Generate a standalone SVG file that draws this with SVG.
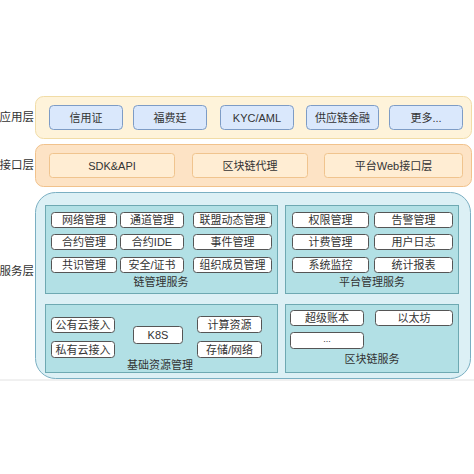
<svg xmlns="http://www.w3.org/2000/svg" width="474" height="474" viewBox="0 0 474 474">
<style>
text{font-family:"Liberation Sans","Noto Sans CJK SC",sans-serif;text-anchor:middle;dominant-baseline:central;fill:#333}
.lbl{font-size:11.5px;text-anchor:end}
.t{font-size:11px}
.cap{font-size:11px}
.app{fill:#dae8fc;stroke:#7d9cc6;stroke-width:1}
.ifc{fill:#ffedd3;stroke:#f0c48e;stroke-width:1}
.panel{fill:#b2e0e5;stroke:#6ea9b2;stroke-width:1}
.box{fill:#fff;stroke:#555;stroke-width:1}
</style>
<rect width="474" height="474" fill="#fff"/>
<line x1="0" y1="380" x2="474" y2="380" stroke="#e2e2e2" stroke-width="1"/>
<g id="layer-app">
<rect x="35.5" y="96.5" width="436" height="42" rx="8" fill="#fef3da" stroke="#f1dca6"/>
<text class="lbl" x="34" y="117">应用层</text>
<g id="n-xyz"><rect class="app" x="49.5" y="105.5" width="73" height="24" rx="4"/><text class="t" x="86" y="117.5">信用证</text></g>
<g id="n-fft"><rect class="app" x="133.5" y="105.5" width="73" height="24" rx="4"/><text class="t" x="170" y="117.5">福费廷</text></g>
<g id="n-kyc"><rect class="app" x="220.5" y="105.5" width="73" height="24" rx="4"/><text class="t" x="257" y="117.5">KYC/AML</text></g>
<g id="n-gyl"><rect class="app" x="306.5" y="105.5" width="72" height="24" rx="4"/><text class="t" x="342.5" y="117.5">供应链金融</text></g>
<g id="n-more"><rect class="app" x="389.5" y="105.5" width="73" height="24" rx="4"/><text class="t" x="426" y="117.5">更多...</text></g>
</g>
<g id="layer-ifc">
<rect x="35.5" y="144.5" width="436" height="42" rx="8" fill="#fde3c5" stroke="#f1c28c"/>
<text class="lbl" x="34" y="165">接口层</text>
<g id="n-sdk"><rect class="ifc" x="49.5" y="153.5" width="125" height="24" rx="3"/><text class="t" x="112" y="165.5">SDK&amp;API</text></g>
<g id="n-proxy"><rect class="ifc" x="192.5" y="153.5" width="115" height="24" rx="3"/><text class="t" x="250" y="165.5">区块链代理</text></g>
<g id="n-web"><rect class="ifc" x="324.5" y="153.5" width="138" height="24" rx="3"/><text class="t" x="393.5" y="165.5">平台Web接口层</text></g>
</g>
<g id="layer-svc">
<rect x="35.5" y="192.5" width="435" height="186" rx="20" fill="#dcf0f5" stroke="#7aafc2"/>
<text class="lbl" x="34" y="271">服务层</text>
<g id="p-chain">
<rect class="panel" x="45.5" y="205.5" width="232" height="88"/>
<text class="cap" x="161" y="282">链管理服务</text>
<g id="n-c1"><rect class="box" x="51.5" y="212.5" width="65" height="15" rx="3"/><text class="t" x="84" y="220">网络管理</text></g>
<g id="n-c2"><rect class="box" x="120.5" y="212.5" width="63" height="15" rx="3"/><text class="t" x="152" y="220">通道管理</text></g>
<g id="n-c3"><rect class="box" x="193.5" y="212.5" width="78" height="15" rx="3"/><text class="t" x="232.5" y="220">联盟动态管理</text></g>
<g id="n-c4"><rect class="box" x="51.5" y="234.5" width="65" height="15" rx="3"/><text class="t" x="84" y="242">合约管理</text></g>
<g id="n-c5"><rect class="box" x="120.5" y="234.5" width="63" height="15" rx="3"/><text class="t" x="152" y="242">合约IDE</text></g>
<g id="n-c6"><rect class="box" x="193.5" y="234.5" width="78" height="15" rx="3"/><text class="t" x="232.5" y="242">事件管理</text></g>
<g id="n-c7"><rect class="box" x="51.5" y="257.5" width="65" height="15" rx="3"/><text class="t" x="84" y="265">共识管理</text></g>
<g id="n-c8"><rect class="box" x="120.5" y="257.5" width="63" height="15" rx="3"/><text class="t" x="152" y="265">安全/证书</text></g>
<g id="n-c9"><rect class="box" x="193.5" y="257.5" width="78" height="15" rx="3"/><text class="t" x="232.5" y="265">组织成员管理</text></g>
</g>
<g id="p-plat">
<rect class="panel" x="285.5" y="205.5" width="173" height="88"/>
<text class="cap" x="372" y="282">平台管理服务</text>
<g id="n-p1"><rect class="box" x="292.5" y="212.5" width="76" height="15" rx="3"/><text class="t" x="330.5" y="220">权限管理</text></g>
<g id="n-p2"><rect class="box" x="374.5" y="212.5" width="78" height="15" rx="3"/><text class="t" x="413.5" y="220">告警管理</text></g>
<g id="n-p3"><rect class="box" x="292.5" y="234.5" width="76" height="15" rx="3"/><text class="t" x="330.5" y="242">计费管理</text></g>
<g id="n-p4"><rect class="box" x="374.5" y="234.5" width="78" height="15" rx="3"/><text class="t" x="413.5" y="242">用户日志</text></g>
<g id="n-p5"><rect class="box" x="292.5" y="257.5" width="76" height="15" rx="3"/><text class="t" x="330.5" y="265">系统监控</text></g>
<g id="n-p6"><rect class="box" x="374.5" y="257.5" width="78" height="15" rx="3"/><text class="t" x="413.5" y="265">统计报表</text></g>
</g>
<g id="p-res">
<rect class="panel" x="45.5" y="304.5" width="232" height="68"/>
<text class="cap" x="160" y="365">基础资源管理</text>
<g id="n-r1"><rect class="box" x="51.5" y="317.5" width="63" height="15" rx="3"/><text class="t" x="83" y="325">公有云接入</text></g>
<g id="n-r2"><rect class="box" x="51.5" y="341.5" width="63" height="16" rx="3"/><text class="t" x="83" y="349.5">私有云接入</text></g>
<g id="n-r3"><rect class="box" x="133.5" y="326.5" width="49" height="17" rx="3"/><text class="t" x="158" y="335">K8S</text></g>
<g id="n-r4"><rect class="box" x="197.5" y="316.5" width="64" height="16" rx="3"/><text class="t" x="229.5" y="324.5">计算资源</text></g>
<g id="n-r5"><rect class="box" x="197.5" y="341.5" width="64" height="16" rx="3"/><text class="t" x="229.5" y="349.5">存储/网络</text></g>
</g>
<g id="p-bc">
<rect class="panel" x="285.5" y="304.5" width="173" height="68"/>
<text class="cap" x="372" y="359">区块链服务</text>
<g id="n-b1"><rect class="box" x="290.5" y="310.5" width="73" height="15" rx="3"/><text class="t" x="327" y="318">超级账本</text></g>
<g id="n-b2"><rect class="box" x="375.5" y="310.5" width="77" height="15" rx="3"/><text class="t" x="414" y="318">以太坊</text></g>
<g id="n-b3"><rect class="box" x="290.5" y="332.5" width="73" height="16" rx="3"/><text class="t" x="327" y="339" style="font-size:9px">...</text></g>
</g>
</g>
<g id="connectors"/>
</svg>
